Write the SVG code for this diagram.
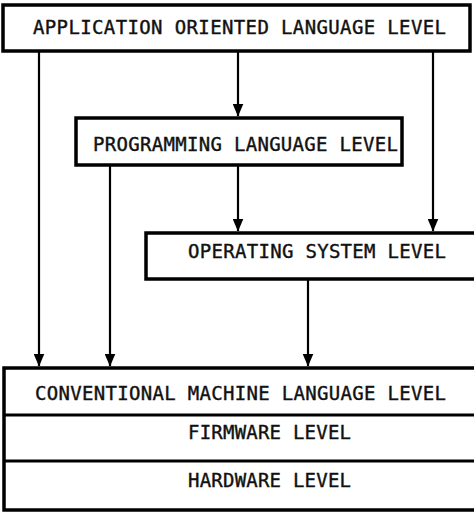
<svg xmlns="http://www.w3.org/2000/svg" width="474" height="512" viewBox="0 0 474 512">
<style>
.box{fill:#fff;stroke:#000;stroke-width:3.5}
.div{stroke:#000;stroke-width:3}
.lbl{font-family:"DejaVu Sans Mono","Liberation Mono",monospace;font-size:19px;fill:#111;stroke:#111;stroke-width:0.4}
.conn line{stroke:#000;stroke-width:2.2}
</style>
<defs>
<marker id="ad" markerUnits="userSpaceOnUse" markerWidth="11" markerHeight="13" refX="5.5" refY="12.5" orient="0" viewBox="0 0 11 13">
<path d="M0,0 L11,0 L5.5,13 Z" fill="#000"/>
</marker>
</defs>
<rect width="474" height="512" fill="#fff"/>
<g class="conn" id="connectors">
<line x1="39" y1="51" x2="39" y2="366" marker-end="url(#ad)"/>
<line x1="238" y1="51" x2="238" y2="116" marker-end="url(#ad)"/>
<line x1="433" y1="51" x2="433" y2="231" marker-end="url(#ad)"/>
<line x1="110" y1="165" x2="110" y2="366" marker-end="url(#ad)"/>
<line x1="238" y1="165" x2="238" y2="231" marker-end="url(#ad)"/>
<line x1="308" y1="279" x2="308" y2="366" marker-end="url(#ad)"/>
</g>
<g id="application">
<rect class="box" x="3" y="5" width="467" height="46"/>
<text class="lbl" x="33" y="34" textLength="413" lengthAdjust="spacing">APPLICATION ORIENTED LANGUAGE LEVEL</text>
</g>
<g id="programming">
<rect class="box" x="76" y="118" width="326" height="47"/>
<text class="lbl" x="93" y="151" textLength="305" lengthAdjust="spacing">PROGRAMMING LANGUAGE LEVEL</text>
</g>
<g id="os">
<rect class="box" x="146" y="233" width="330" height="46"/>
<text class="lbl" x="188" y="258" textLength="258" lengthAdjust="spacing">OPERATING SYSTEM LEVEL</text>
</g>
<g id="machine">
<rect class="box" x="4" y="368" width="472" height="142"/>
<line class="div" x1="4" y1="415" x2="474" y2="415"/>
<line class="div" x1="4" y1="461" x2="474" y2="461"/>
<text class="lbl" x="35" y="400" textLength="411" lengthAdjust="spacing">CONVENTIONAL MACHINE LANGUAGE LEVEL</text>
</g>
<g id="firmware">
<text class="lbl" x="188" y="439" textLength="163" lengthAdjust="spacing">FIRMWARE LEVEL</text>
</g>
<g id="hardware">
<text class="lbl" x="188" y="487" textLength="163" lengthAdjust="spacing">HARDWARE LEVEL</text>
</g>
</svg>
